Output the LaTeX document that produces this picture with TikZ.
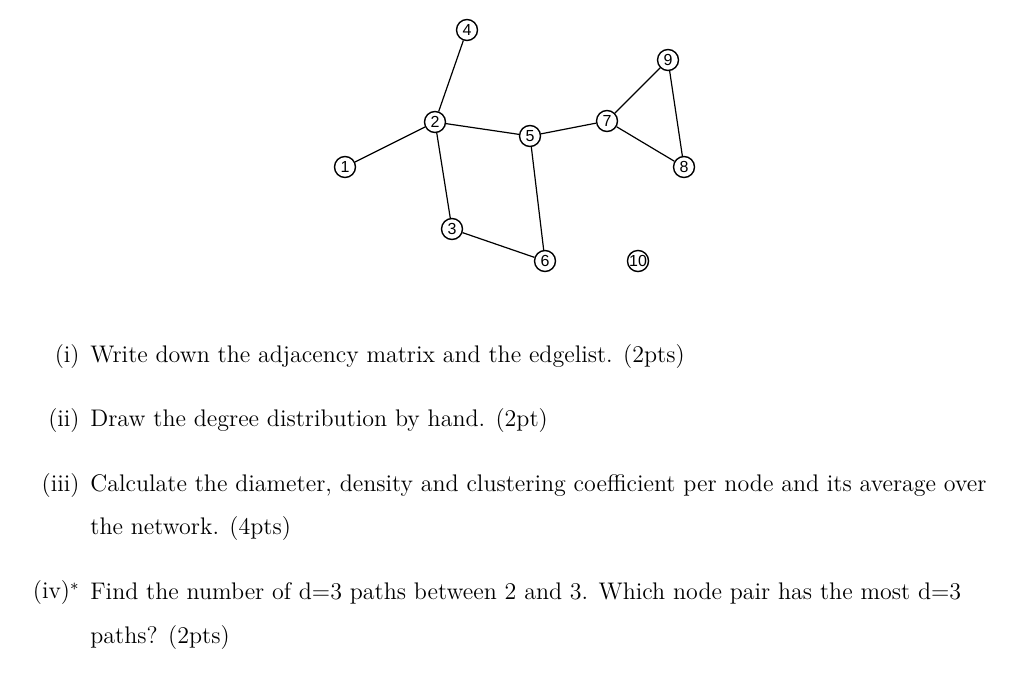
\documentclass[tikz,border=0pt]{standalone}
\usepackage{fontspec}
\setsansfont{Liberation Sans}
\begin{document}
\begin{tikzpicture}[x=0.5pt,y=-0.5pt,
  v/.style={circle,draw,line width=0.7pt,inner sep=0pt,minimum size=10.5pt,font=\sffamily\fontsize{8}{9}\selectfont},
  e/.style={line width=0.6pt},
  txt/.style={anchor=west,inner sep=0pt,font=\fontsize{12}{14}\selectfont},
  lab/.style={anchor=east,inner sep=0pt,font=\fontsize{12}{14}\selectfont}]
\useasboundingbox (0,0) rectangle (1036,674);
\node[v] (n1) at (345,167) {1};
\node[v] (n2) at (435,122) {2};
\node[v] (n3) at (452,229) {3};
\node[v] (n4) at (467,30) {4};
\node[v] (n5) at (530,136) {5};
\node[v] (n6) at (545,261) {6};
\node[v] (n7) at (607,121) {7};
\node[v] (n8) at (684,167) {8};
\node[v] (n9) at (668,60) {9};
\node[v] (n10) at (638,261) {10};
\draw[e] (n1)--(n2); \draw[e] (n2)--(n4); \draw[e] (n2)--(n5); \draw[e] (n2)--(n3);
\draw[e] (n3)--(n6); \draw[e] (n5)--(n6); \draw[e] (n5)--(n7); \draw[e] (n7)--(n9);
\draw[e] (n7)--(n8); \draw[e] (n9)--(n8);
\node[lab] (l1) at (80,357) {(i)};
\node[txt] (t1) at (90,357) {Write down the adjacency matrix and the edgelist. (2pts)};
\node[lab] (l2) at (80,421) {(ii)};
\node[txt] (t2) at (90,421) {Draw the degree distribution by hand. (2pt)};
\node[lab] (l3) at (80,486) {(iii)};
\node[txt] (t3) at (90,486) {Calculate the diameter, density and clustering coefficient per node and its average over};
\node[txt] (t3b) at (90,529) {the network. (4pts)};
\node[lab] (l4) at (80,593) {(iv)$^*$};
\node[txt] (t4) at (90,593) {Find the number of d=3 paths between 2 and 3. Which node pair has the most d=3};
\node[txt] (t4b) at (90,637) {paths? (2pts)};
\end{tikzpicture}
\end{document}
